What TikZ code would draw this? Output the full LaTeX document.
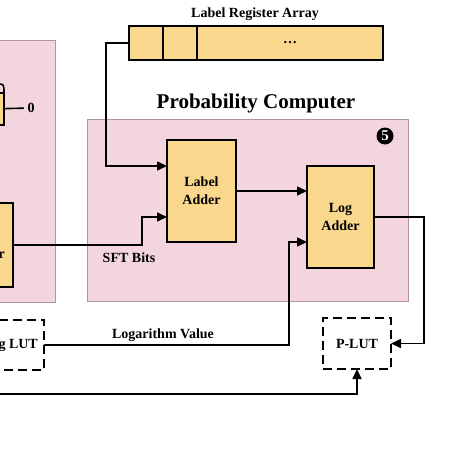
\documentclass[tikz,border=0pt]{standalone}
\usepackage{fontspec}
\setmainfont{Liberation Serif}
\usepackage{xcolor}
\usepackage{tikz}
\usetikzlibrary{arrows.meta, positioning}

\definecolor{regyellow}{RGB}{249,215,141}
\definecolor{zonepink}{RGB}{243,214,221}
\definecolor{zoneedge}{RGB}{175,150,156}

\begin{document}
\begin{tikzpicture}[
    x=1pt, y=-1pt,
    txt/.style={font=\bfseries\fontsize{14}{18}\selectfont},
    zone/.style={rectangle, draw=zoneedge, fill=zonepink, line width=0.8pt},
    unit/.style={rectangle, draw=black, fill=regyellow, line width=1.8pt, outer sep=0pt, inner sep=0pt, txt, align=center},
    lut/.style={rectangle, draw=black, dash pattern=on 9pt off 5pt, line width=1.8pt, outer sep=0pt, inner sep=0pt, txt},
    arrow/.style={-{Triangle[length=10pt,width=9pt]}, line width=1.6pt},
    wire/.style={line width=1.6pt}
]

\useasboundingbox (0,0) rectangle (474,474);
\clip (0,0) rectangle (474,474);

% pink zones
\node (zleft) [zone, minimum width=80, minimum height=262] at (15,171) {};
\node (zcomp) [zone, minimum width=321, minimum height=182] at (247.5,210) {};
\node (title) [font=\bfseries\fontsize{21}{24}\selectfont] at (256,103) {Probability Computer};
\node (badge) [circle, fill=black, text=white, inner sep=0pt, minimum size=17pt, font=\bfseries\fontsize{15}{15}\selectfont] at (385,136) {5};

% label register array
\node (regname) [txt] at (255,14) {Label Register Array};
\node (cell1) [unit, minimum width=34, minimum height=34] at (146,43) {};
\node (cell2) [unit, minimum width=34, minimum height=34, right=0pt of cell1] {};
\node (cell3) [unit, minimum width=186, minimum height=34, right=0pt of cell2] {\dots};

% blocks
\node (reg0) [unit, minimum width=34, minimum height=32] at (-13,109) {};
\node (zero) [txt] at (31,108) {0};
\node (cnt) [unit, minimum width=66, minimum height=84] at (-20,245) {Shift\\Counter};
\node (ladd) [unit, minimum width=69, minimum height=102] at (201.5,191) {Label\\Adder};
\node (gadd) [unit, minimum width=67, minimum height=102] at (340.5,217) {Log\\Adder};
\node (glut) [lut, minimum width=68, minimum height=50] at (10,345) {Log LUT};
\node (plut) [lut, minimum width=68, minimum height=51] at (357,343.5) {P-LUT};

% labels
\node (sft) [txt] at (129,258) {SFT Bits};
\node (logval) [txt] at (163,335) {Logarithm Value};

% wires
\coordinate (fb) at (-3,84);
\coordinate (lin) at (-10,394);
\draw [wire] (fb) .. controls (4,84) .. (reg0.north east);
\draw [wire] (reg0) -- (zero);
\draw [arrow] (cell1.west) -- ++(-23,0) |- ([yshift=25pt]ladd.west);
\draw [arrow] (cnt.east) -- ++(129,0) |- ([yshift=-26pt]ladd.west);
\draw [arrow] (ladd.east) -- (ladd.east -| gadd.west);
\draw [arrow] (glut.east) -- ++(245,0) |- ([yshift=-25pt]gadd.west);
\draw [arrow] (gadd.east) -- ++(50,0) |- (plut.east);
\draw [arrow] (lin) -| (plut.south);

\end{tikzpicture}
\end{document}
